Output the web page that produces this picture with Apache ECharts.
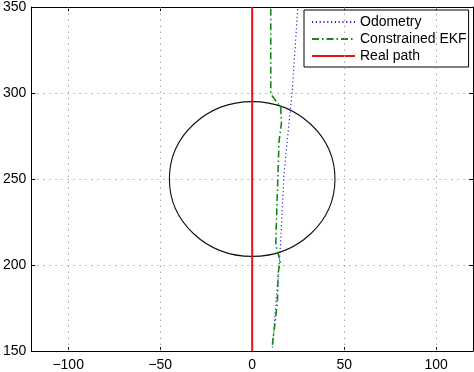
<!DOCTYPE html>
<html>
<head>
<meta charset="utf-8">
<script src="https://cdn.jsdelivr.net/npm/echarts@6/dist/echarts.min.js"></script>
<style>
html,body{margin:0;padding:0;background:#fff;}
#c{width:474px;height:372px;}
</style>
</head>
<body>
<div id="c"></div>
<script>
// ---- data ----
const xTicks = [-100, -50, 0, 50, 100];
const yTicks = [150, 200, 250, 300, 350];

const odoX = [11.0, 14.6, 15.2, 17.3, 21.8, 24.8];
const odoY = [152.0, 200.0, 208.0, 253.0, 301.5, 350.0];

const ekfX = [11.0, 13.7, 14.1, 15.2, 14.6, 12.8, 13.2, 14.6, 15.9, 15.5, 10.7, 10.1, 10.1];
const ekfY = [153.6, 178.2, 195.3, 202.1, 204.8, 211.4, 226.5, 272.0, 282.4, 291.8, 298.5, 300.4, 350.0];

const realX = [0, 0];
const realY = [150, 350];

const circleCenter = [0, 250];
const circleRadius = 45;

const seriesNames = ['Odometry', 'Constrained EKF', 'Real path'];

// ---- build ----
const pairs = (xs, ys) => xs.map((x, i) => [x, ys[i]]);
const FONT = 'Liberation Sans, Arial, Helvetica, sans-serif';
const gridStyle = { color: '#a8a8a8', width: 1, type: [1.5, 4.5] };
const minus = v => String(v).replace('-', '\u2212');

const chart = echarts.init(document.getElementById('c'), null, { renderer: 'canvas' });
chart.setOption({
  animation: false,
  backgroundColor: '#fff',
  textStyle: { fontFamily: FONT },
  grid: { left: 27, right: 1, top: 4, bottom: 17, containLabel: false },
  legend: {
    data: seriesNames,
    orient: 'vertical',
    left: 304, top: 10,
    padding: [5, 2, 4, 7],
    itemGap: 3,
    itemWidth: 43,
    itemHeight: 14,
    borderColor: '#000', borderWidth: 1,
    backgroundColor: '#fff',
    itemStyle: { opacity: 0 },
    textStyle: { fontSize: 14, lineHeight: 14, color: '#000', fontFamily: FONT },
    selectedMode: false
  },
  xAxis: [{
    type: 'value', min: -120, max: 120, position: 'bottom',
    axisLine: { show: true, onZero: false, lineStyle: { color: '#000', width: 1 } },
    axisTick: { show: true, inside: true, length: 4, customValues: xTicks, lineStyle: { color: '#000' } },
    axisLabel: { show: true, customValues: xTicks, formatter: minus, fontSize: 14, color: '#000', margin: 7, fontFamily: FONT },
    splitLine: { show: false }
  }, {
    type: 'value', min: -120, max: 120, position: 'top',
    axisLine: { show: true, onZero: false, lineStyle: { color: '#000', width: 1 } },
    axisTick: { show: true, inside: true, length: 4, customValues: xTicks, lineStyle: { color: '#000' } },
    axisLabel: { show: false },
    splitLine: { show: false }
  }],
  yAxis: [{
    type: 'value', min: 150, max: 350, interval: 50, position: 'left',
    axisLine: { show: true, onZero: false, lineStyle: { color: '#000', width: 1 } },
    axisTick: { show: true, inside: true, length: 4, lineStyle: { color: '#000' } },
    axisLabel: { show: true, fontSize: 14, color: '#000', margin: 5, fontFamily: FONT },
    splitLine: { show: true, lineStyle: gridStyle }
  }, {
    type: 'value', min: 150, max: 350, interval: 50, position: 'right',
    axisLine: { show: true, onZero: false, lineStyle: { color: '#000', width: 1 } },
    axisTick: { show: true, inside: true, length: 4, lineStyle: { color: '#000' } },
    axisLabel: { show: false },
    splitLine: { show: false }
  }],
  series: [
    {
      name: 'gridX', type: 'line', data: [], xAxisIndex: 0, yAxisIndex: 0,
      silent: true,
      markLine: {
        silent: true, symbol: 'none', animation: false,
        label: { show: false },
        lineStyle: gridStyle,
        data: xTicks.map(v => ({ xAxis: v }))
      }
    },
    {
      name: 'circle', type: 'custom', xAxisIndex: 0, yAxisIndex: 0,
      data: [[circleCenter[0], circleCenter[1], circleRadius]],
      renderItem: function (params, api) {
        const c = api.coord([api.value(0), api.value(1)]);
        const s = api.size([api.value(2), api.value(2)]);
        return {
          type: 'ellipse',
          shape: { cx: c[0], cy: c[1], rx: s[0], ry: s[1] },
          style: { fill: null, stroke: '#111', lineWidth: 1.1 }
        };
      },
      silent: true, z: 2
    },
    {
      name: 'Odometry', type: 'line', data: pairs(odoX, odoY),
      symbol: 'none', showSymbol: false, smooth: false, z: 3,
      color: '#2a2aee',
      lineStyle: { color: '#2a2aee', width: 1.2, type: [1.2, 2.6] }
    },
    {
      name: 'Constrained EKF', type: 'line', data: pairs(ekfX, ekfY),
      symbol: 'none', showSymbol: false, smooth: false, z: 4,
      color: '#128a12',
      lineStyle: { color: '#128a12', width: 1.6, type: [7, 3, 1.5, 3] }
    },
    {
      name: 'Real path', type: 'line', data: pairs(realX, realY),
      symbol: 'none', showSymbol: false, z: 5,
      color: '#ee1111',
      lineStyle: { color: '#ee1111', width: 2, type: 'solid' }
    }
  ]
});
</script>
</body>
</html>
